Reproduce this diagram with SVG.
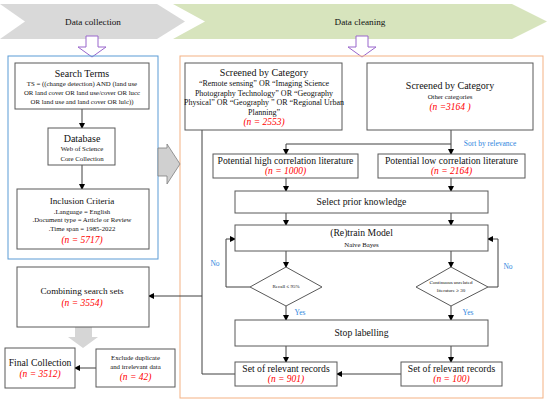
<svg xmlns="http://www.w3.org/2000/svg" width="550" height="403" viewBox="0 0 550 403" font-family="Liberation Serif, Times New Roman, serif">
<defs>
<marker id="ah" markerWidth="6" markerHeight="6" refX="5" refY="3" orient="auto" markerUnits="userSpaceOnUse">
<path d="M0,0 L6,3 L0,6 z" fill="#000"/>
</marker>
<style>
text{font-family:'Liberation Serif','Times New Roman',serif;fill:#111;text-anchor:middle}
.box{fill:#fff;stroke:#595959;stroke-width:1}
.t11{font-size:10px}
.t10{font-size:9.7px}
.t9{font-size:9.2px}
.t8{font-size:8px}
.t7{font-size:6.8px}
.t5{font-size:5px}
.n{fill:#ff0000;font-style:italic;font-size:9.5px}
.lbl{fill:#2e86de;font-size:7.5px}
.ln{fill:none;stroke:#404040;stroke-width:1}
</style>
</defs>
<rect width="550" height="403" fill="#fff"/>
<g id="headers">
<polygon points="0,4 157,4 185,21.5 157,39 0,39 25,21.5" fill="#d9d9d9"/>
<polygon points="173,4 512,4 547,21.5 512,39 173,39 205,21.5" fill="#d7e4bd"/>
<text class="t9" x="93" y="25">Data collection</text>
<text class="t9" x="360" y="25">Data cleaning</text>
<polygon points="86,36 98,36 98,47 106,47 92,57 78,47 86,47" fill="#fff" stroke="#9966cc" stroke-width="1"/>
<polygon points="356,36 368,36 368,47 376,47 362,57 348,47 356,47" fill="#fff" stroke="#9966cc" stroke-width="1"/>
</g>
<g id="panels">
<rect x="8" y="56" width="150" height="203" fill="none" stroke="#5b9bd5" stroke-width="1"/>
<rect x="180" y="56" width="363" height="342" fill="none" stroke="#f4b183" stroke-width="1"/>
<polygon points="158,148 167,148 167,144 180,164 167,184 167,176 158,176" fill="#d0d0d0" stroke="#7f7f7f" stroke-width="0.8"/>
<polygon points="75,327 92,327 92,337 98,337 83,348 68,337 75,337" fill="#d6d6d6"/>
</g>
<g id="connectors">
<line class="ln" x1="82" y1="109" x2="82" y2="128" marker-end="url(#ah)"/>
<line class="ln" x1="82" y1="165" x2="82" y2="189" marker-end="url(#ah)"/>
<polyline class="ln" points="202,130 202,374 235,374"/>
<line class="ln" x1="202" y1="296" x2="149" y2="296" marker-end="url(#ah)"/>
<line class="ln" x1="96" y1="368" x2="75" y2="368" marker-end="url(#ah)"/>
<line class="ln" x1="451" y1="130" x2="451" y2="154" marker-end="url(#ah)"/>
<polyline class="ln" points="451,144 286,144 286,154" marker-end="url(#ah)"/>
<line class="ln" x1="286" y1="178" x2="286" y2="191" marker-end="url(#ah)"/>
<line class="ln" x1="451" y1="178" x2="451" y2="191" marker-end="url(#ah)"/>
<line class="ln" x1="286" y1="213" x2="286" y2="225" marker-end="url(#ah)"/>
<line class="ln" x1="451" y1="213" x2="451" y2="225" marker-end="url(#ah)"/>
<line class="ln" x1="286" y1="251" x2="286" y2="267" marker-end="url(#ah)"/>
<line class="ln" x1="451" y1="251" x2="451" y2="267" marker-end="url(#ah)"/>
<polyline class="ln" points="250,287 226,287 226,239 235,239" marker-end="url(#ah)"/>
<polyline class="ln" points="488,287 498,287 498,239 488,239" marker-end="url(#ah)"/>
<line class="ln" x1="286" y1="306" x2="286" y2="320" marker-end="url(#ah)"/>
<line class="ln" x1="451" y1="306" x2="451" y2="320" marker-end="url(#ah)"/>
<line class="ln" x1="286" y1="346" x2="286" y2="362" marker-end="url(#ah)"/>
<line class="ln" x1="451" y1="346" x2="451" y2="362" marker-end="url(#ah)"/>
<line class="ln" x1="401" y1="374" x2="337" y2="374" marker-end="url(#ah)"/>
<text class="lbl" x="490" y="146">Sort by relevance</text>
<text class="lbl" x="215" y="266">No</text>
<text class="lbl" x="508" y="269">No</text>
<text class="lbl" x="300" y="315">Yes</text>
<text class="lbl" x="468" y="315">Yes</text>
</g>
<g id="search-terms">
<rect class="box" x="15" y="63" width="134" height="46"/>
<text class="t11" x="82" y="77">Search Terms</text>
<text class="t7" x="82" y="86">TS = ((change detection) AND (land use</text>
<text class="t7" x="82" y="95">OR land cover OR land use/cover OR lucc</text>
<text class="t7" x="82" y="104">OR land use and land cover OR lulc))</text>
</g>
<g id="database">
<rect class="box" x="48" y="128" width="67" height="37"/>
<text class="t11" x="82" y="142">Database</text>
<text class="t7" x="82" y="151">Web of Science</text>
<text class="t7" x="82" y="161">Core Collection</text>
</g>
<g id="inclusion">
<rect class="box" x="17" y="189" width="132" height="60"/>
<text class="t9" x="82" y="204">Inclusion Criteria</text>
<text class="t7" x="82" y="214">.Language = English</text>
<text class="t7" x="82" y="222">.Document type = Article or Review</text>
<text class="t7" x="82" y="231">.Time span = 1985-2022</text>
<text class="n" x="82" y="243">(n = 5717)</text>
</g>
<g id="combining">
<rect class="box" x="17" y="267" width="132" height="60"/>
<text class="t9" x="82" y="294">Combining search sets</text>
<text class="n" x="82" y="306">(n = 3554)</text>
</g>
<g id="final">
<rect class="box" x="5" y="348" width="70" height="40"/>
<text class="t10" x="40" y="366">Final Collection</text>
<text class="n" x="40" y="377">(n = 3512)</text>
</g>
<g id="exclude">
<rect class="box" x="96" y="349" width="79" height="38"/>
<text class="t7" x="135.5" y="360">Exclude duplicate</text>
<text class="t7" x="135.5" y="369">and irrelevant data</text>
<text class="n" x="135.5" y="380">(n = 42)</text>
</g>
<g id="screened-1">
<rect class="box" x="185" y="63" width="157" height="67"/>
<text class="t11" x="264" y="76">Screened by Category</text>
<text class="t8" x="264" y="85.5">“Remote sensing” OR “Imaging Science</text>
<text class="t8" x="264" y="95.5">Photography Technology” OR “Geography</text>
<text class="t8" x="264" y="105">Physical” OR “Geography ” OR “Regional Urban</text>
<text class="t8" x="264" y="114.5">Planning”</text>
<text class="n" x="264" y="125">(n = 2553)</text>
</g>
<g id="screened-2">
<rect class="box" x="367" y="63" width="166" height="67"/>
<text class="t11" x="450" y="89">Screened by Category</text>
<text class="t7" x="450" y="99">Other categories</text>
<text class="n" x="450" y="110">(n =3164 )</text>
</g>
<g id="potential-high">
<rect class="box" x="213" y="154" width="145" height="24"/>
<text class="t10" x="285.5" y="164">Potential high correlation literature</text>
<text class="n" x="285.5" y="174">(n = 1000)</text>
</g>
<g id="potential-low">
<rect class="box" x="378" y="154" width="147" height="24"/>
<text class="t10" x="451.5" y="164">Potential low correlation literature</text>
<text class="n" x="451.5" y="174">(n = 2164)</text>
</g>
<g id="select-prior">
<rect class="box" x="235" y="191" width="253" height="22"/>
<text class="t10" x="361.5" y="205">Select prior knowledge</text>
</g>
<g id="retrain">
<rect class="box" x="235" y="225" width="253" height="26"/>
<text class="t10" x="361.5" y="236">(Re)train Model</text>
<text class="t7" x="361.5" y="247">Naive Bayes</text>
</g>
<g id="recall">
<polygon class="box" points="286,267 322,287 286,306 250,287"/>
<text class="t5" x="286" y="288">Recall ≤ 95%</text>
</g>
<g id="continuous">
<polygon class="box" points="451,267 488,287 451,306 416,287"/>
<text class="t5" x="451" y="284">Continuous unrelated</text>
<text class="t5" x="451" y="292">literature ≥ 30</text>
</g>
<g id="stop">
<rect class="box" x="235" y="320" width="253" height="26"/>
<text class="t10" x="361.5" y="336">Stop labelling</text>
</g>
<g id="set-901">
<rect class="box" x="235" y="362" width="102" height="24"/>
<text class="t10" x="286" y="372">Set of relevant records</text>
<text class="n" x="286" y="382">(n = 901)</text>
</g>
<g id="set-100">
<rect class="box" x="401" y="362" width="101" height="24"/>
<text class="t10" x="451.5" y="372">Set of relevant records</text>
<text class="n" x="451.5" y="382">(n = 100)</text>
</g>
</svg>
